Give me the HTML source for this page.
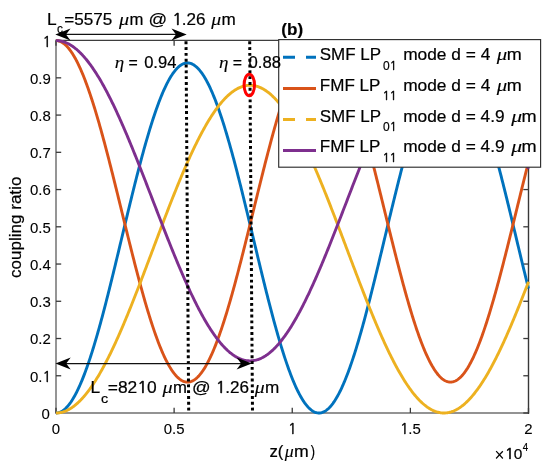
<!DOCTYPE html>
<html><head><meta charset="utf-8"><style>
html,body{margin:0;padding:0;background:#fff;}
svg{display:block;}
text{font-family:'Liberation Sans', Arial, sans-serif;fill:#000;stroke:#000;stroke-width:0.2px;}
text.tk{stroke-width:0.1px;}
tspan.n1{font-family:NanumGothic,'Liberation Sans',sans-serif;stroke-width:0.55px;}
text.tk tspan.n1{stroke-width:0.4px;}
</style></head><body>
<svg width="550" height="469" viewBox="0 0 550 469">
<rect width="550" height="469" fill="#fff"/>
<defs><clipPath id="ax"><rect x="56.0" y="40.6" width="472.50" height="372.40"/></clipPath></defs>

<g fill="none">
<line x1="56.0" y1="40.4" x2="528.5" y2="40.4" stroke="#3e3e3e" stroke-width="1.3"/>
<line x1="56.0" y1="413.0" x2="528.5" y2="413.0" stroke="#6f6f6f" stroke-width="1.6"/>
<line x1="56.0" y1="39.4" x2="56.0" y2="413.9" stroke="#959595" stroke-width="2"/>
<line x1="528.5" y1="39.4" x2="528.5" y2="413.9" stroke="#383838" stroke-width="1.4"/>
</g>
<g stroke="#3a3a3a" stroke-width="1.3" fill="none">
<line x1="56.0" y1="413.00" x2="61.20" y2="413.00"/><line x1="528.5" y1="413.00" x2="523.30" y2="413.00"/><line x1="56.0" y1="375.76" x2="61.20" y2="375.76"/><line x1="528.5" y1="375.76" x2="523.30" y2="375.76"/><line x1="56.0" y1="338.52" x2="61.20" y2="338.52"/><line x1="528.5" y1="338.52" x2="523.30" y2="338.52"/><line x1="56.0" y1="301.28" x2="61.20" y2="301.28"/><line x1="528.5" y1="301.28" x2="523.30" y2="301.28"/><line x1="56.0" y1="264.04" x2="61.20" y2="264.04"/><line x1="528.5" y1="264.04" x2="523.30" y2="264.04"/><line x1="56.0" y1="226.80" x2="61.20" y2="226.80"/><line x1="528.5" y1="226.80" x2="523.30" y2="226.80"/><line x1="56.0" y1="189.56" x2="61.20" y2="189.56"/><line x1="528.5" y1="189.56" x2="523.30" y2="189.56"/><line x1="56.0" y1="152.32" x2="61.20" y2="152.32"/><line x1="528.5" y1="152.32" x2="523.30" y2="152.32"/><line x1="56.0" y1="115.08" x2="61.20" y2="115.08"/><line x1="528.5" y1="115.08" x2="523.30" y2="115.08"/><line x1="56.0" y1="77.84" x2="61.20" y2="77.84"/><line x1="528.5" y1="77.84" x2="523.30" y2="77.84"/><line x1="56.0" y1="40.60" x2="61.20" y2="40.60"/><line x1="528.5" y1="40.60" x2="523.30" y2="40.60"/><line x1="56.00" y1="413.0" x2="56.00" y2="407.80"/><line x1="56.00" y1="40.6" x2="56.00" y2="45.80"/><line x1="174.12" y1="413.0" x2="174.12" y2="407.80"/><line x1="174.12" y1="40.6" x2="174.12" y2="45.80"/><line x1="292.25" y1="413.0" x2="292.25" y2="407.80"/><line x1="292.25" y1="40.6" x2="292.25" y2="45.80"/><line x1="410.38" y1="413.0" x2="410.38" y2="407.80"/><line x1="410.38" y1="40.6" x2="410.38" y2="45.80"/><line x1="528.50" y1="413.0" x2="528.50" y2="407.80"/><line x1="528.50" y1="40.6" x2="528.50" y2="45.80"/>
</g>
<g fill="none" stroke-width="2.9" stroke-linejoin="round">
<path d="M56.00,413.00 L56.59,412.98 L57.18,412.93 L57.77,412.84 L58.36,412.72 L58.95,412.56 L59.54,412.37 L60.13,412.15 L60.73,411.89 L61.32,411.59 L61.91,411.26 L62.50,410.90 L63.09,410.50 L63.68,410.06 L64.27,409.60 L64.86,409.09 L65.45,408.56 L66.04,407.99 L66.63,407.38 L67.22,406.75 L67.81,406.08 L68.40,405.37 L68.99,404.63 L69.58,403.86 L70.17,403.06 L70.77,402.22 L71.36,401.35 L71.95,400.45 L72.54,399.52 L73.13,398.55 L73.72,397.55 L74.31,396.52 L74.90,395.46 L75.49,394.36 L76.08,393.24 L76.67,392.08 L77.26,390.90 L77.85,389.68 L78.44,388.44 L79.03,387.16 L79.62,385.85 L80.22,384.52 L80.81,383.15 L81.40,381.76 L81.99,380.34 L82.58,378.88 L83.17,377.41 L83.76,375.90 L84.35,374.36 L84.94,372.80 L85.53,371.21 L86.12,369.60 L86.71,367.96 L87.30,366.29 L87.89,364.60 L88.48,362.88 L89.08,361.14 L89.67,359.37 L90.26,357.58 L90.85,355.77 L91.44,353.93 L92.03,352.07 L92.62,350.18 L93.21,348.28 L93.80,346.35 L94.39,344.40 L94.98,342.43 L95.57,340.43 L96.16,338.42 L96.75,336.39 L97.34,334.34 L97.93,332.27 L98.53,330.18 L99.12,328.07 L99.71,325.94 L100.30,323.80 L100.89,321.64 L101.48,319.46 L102.07,317.27 L102.66,315.06 L103.25,312.83 L103.84,310.59 L104.43,308.34 L105.02,306.07 L105.61,303.79 L106.20,301.49 L106.79,299.18 L107.38,296.86 L107.97,294.53 L108.57,292.19 L109.16,289.84 L109.75,287.47 L110.34,285.10 L110.93,282.72 L111.52,280.32 L112.11,277.92 L112.70,275.51 L113.29,273.10 L113.88,270.68 L114.47,268.25 L115.06,265.81 L115.65,263.37 L116.24,260.92 L116.83,258.47 L117.43,256.02 L118.02,253.56 L118.61,251.10 L119.20,248.63 L119.79,246.17 L120.38,243.70 L120.97,241.23 L121.56,238.76 L122.15,236.29 L122.74,233.82 L123.33,231.35 L123.92,228.89 L124.51,226.42 L125.10,223.96 L125.69,221.50 L126.28,219.04 L126.88,216.59 L127.47,214.14 L128.06,211.69 L128.65,209.26 L129.24,206.82 L129.83,204.40 L130.42,201.97 L131.01,199.56 L131.60,197.16 L132.19,194.76 L132.78,192.37 L133.37,189.99 L133.96,187.62 L134.55,185.26 L135.14,182.91 L135.73,180.57 L136.32,178.24 L136.92,175.93 L137.51,173.62 L138.10,171.33 L138.69,169.06 L139.28,166.79 L139.87,164.54 L140.46,162.31 L141.05,160.09 L141.64,157.89 L142.23,155.70 L142.82,153.53 L143.41,151.37 L144.00,149.23 L144.59,147.11 L145.18,145.01 L145.78,142.93 L146.37,140.87 L146.96,138.82 L147.55,136.79 L148.14,134.79 L148.73,132.81 L149.32,130.84 L149.91,128.90 L150.50,126.98 L151.09,125.08 L151.68,123.20 L152.27,121.35 L152.86,119.52 L153.45,117.71 L154.04,115.93 L154.63,114.17 L155.22,112.44 L155.82,110.73 L156.41,109.05 L157.00,107.39 L157.59,105.76 L158.18,104.15 L158.77,102.58 L159.36,101.02 L159.95,99.50 L160.54,98.00 L161.13,96.53 L161.72,95.09 L162.31,93.68 L162.90,92.30 L163.49,90.94 L164.08,89.62 L164.68,88.32 L165.27,87.06 L165.86,85.82 L166.45,84.61 L167.04,83.44 L167.63,82.30 L168.22,81.18 L168.81,80.10 L169.40,79.05 L169.99,78.03 L170.58,77.04 L171.17,76.09 L171.76,75.17 L172.35,74.27 L172.94,73.42 L173.53,72.59 L174.12,71.80 L174.72,71.04 L175.31,70.31 L175.90,69.62 L176.49,68.96 L177.08,68.34 L177.67,67.75 L178.26,67.19 L178.85,66.67 L179.44,66.18 L180.03,65.72 L180.62,65.30 L181.21,64.91 L181.80,64.56 L182.39,64.24 L182.98,63.96 L183.57,63.71 L184.17,63.50 L184.76,63.32 L185.35,63.17 L185.94,63.07 L186.53,62.99 L187.12,62.95 L187.71,62.95 L188.30,62.98 L188.89,63.04 L189.48,63.14 L190.07,63.28 L190.66,63.44 L191.25,63.65 L191.84,63.89 L192.43,64.16 L193.02,64.47 L193.62,64.81 L194.21,65.19 L194.80,65.60 L195.39,66.04 L195.98,66.52 L196.57,67.04 L197.16,67.59 L197.75,68.17 L198.34,68.78 L198.93,69.43 L199.52,70.12 L200.11,70.83 L200.70,71.58 L201.29,72.37 L201.88,73.18 L202.47,74.03 L203.07,74.91 L203.66,75.83 L204.25,76.77 L204.84,77.75 L205.43,78.76 L206.02,79.80 L206.61,80.88 L207.20,81.98 L207.79,83.12 L208.38,84.28 L208.97,85.48 L209.56,86.71 L210.15,87.96 L210.74,89.25 L211.33,90.57 L211.93,91.92 L212.52,93.29 L213.11,94.70 L213.70,96.13 L214.29,97.59 L214.88,99.08 L215.47,100.59 L216.06,102.14 L216.65,103.71 L217.24,105.31 L217.83,106.93 L218.42,108.58 L219.01,110.26 L219.60,111.96 L220.19,113.69 L220.78,115.44 L221.38,117.21 L221.97,119.01 L222.56,120.84 L223.15,122.68 L223.74,124.55 L224.33,126.44 L224.92,128.36 L225.51,130.30 L226.10,132.25 L226.69,134.23 L227.28,136.23 L227.87,138.25 L228.46,140.29 L229.05,142.35 L229.64,144.43 L230.23,146.52 L230.82,148.64 L231.42,150.77 L232.01,152.92 L232.60,155.09 L233.19,157.27 L233.78,159.47 L234.37,161.69 L234.96,163.92 L235.55,166.16 L236.14,168.42 L236.73,170.70 L237.32,172.98 L237.91,175.28 L238.50,177.59 L239.09,179.92 L239.68,182.25 L240.28,184.60 L240.87,186.96 L241.46,189.32 L242.05,191.70 L242.64,194.09 L243.23,196.48 L243.82,198.89 L244.41,201.30 L245.00,203.72 L245.59,206.14 L246.18,208.57 L246.77,211.01 L247.36,213.45 L247.95,215.90 L248.54,218.35 L249.13,220.81 L249.72,223.27 L250.32,225.73 L250.91,228.20 L251.50,230.66 L252.09,233.13 L252.68,235.60 L253.27,238.07 L253.86,240.54 L254.45,243.01 L255.04,245.48 L255.63,247.94 L256.22,250.41 L256.81,252.87 L257.40,255.33 L257.99,257.79 L258.58,260.24 L259.17,262.69 L259.77,265.13 L260.36,267.57 L260.95,270.00 L261.54,272.42 L262.13,274.84 L262.72,277.25 L263.31,279.65 L263.90,282.05 L264.49,284.43 L265.08,286.81 L265.67,289.18 L266.26,291.53 L266.85,293.88 L267.44,296.21 L268.03,298.54 L268.62,300.85 L269.22,303.15 L269.81,305.43 L270.40,307.70 L270.99,309.96 L271.58,312.21 L272.17,314.43 L272.76,316.65 L273.35,318.85 L273.94,321.03 L274.53,323.19 L275.12,325.34 L275.71,327.47 L276.30,329.59 L276.89,331.68 L277.48,333.76 L278.07,335.82 L278.67,337.86 L279.26,339.87 L279.85,341.87 L280.44,343.85 L281.03,345.80 L281.62,347.74 L282.21,349.65 L282.80,351.54 L283.39,353.41 L283.98,355.25 L284.57,357.08 L285.16,358.87 L285.75,360.65 L286.34,362.40 L286.93,364.12 L287.52,365.82 L288.12,367.50 L288.71,369.14 L289.30,370.77 L289.89,372.36 L290.48,373.93 L291.07,375.47 L291.66,376.99 L292.25,378.47 L292.84,379.93 L293.43,381.36 L294.02,382.76 L294.61,384.14 L295.20,385.48 L295.79,386.80 L296.38,388.08 L296.98,389.34 L297.57,390.56 L298.16,391.76 L298.75,392.92 L299.34,394.05 L299.93,395.16 L300.52,396.23 L301.11,397.27 L301.70,398.27 L302.29,399.25 L302.88,400.19 L303.47,401.10 L304.06,401.98 L304.65,402.83 L305.24,403.64 L305.83,404.42 L306.43,405.17 L307.02,405.88 L307.61,406.56 L308.20,407.21 L308.79,407.82 L309.38,408.40 L309.97,408.95 L310.56,409.46 L311.15,409.94 L311.74,410.38 L312.33,410.79 L312.92,411.16 L313.51,411.50 L314.10,411.81 L314.69,412.08 L315.28,412.31 L315.88,412.51 L316.47,412.68 L317.06,412.81 L317.65,412.91 L318.24,412.97 L318.83,413.00 L319.42,412.99 L320.01,412.95 L320.60,412.87 L321.19,412.76 L321.78,412.61 L322.37,412.43 L322.96,412.21 L323.55,411.96 L324.14,411.68 L324.73,411.36 L325.32,411.00 L325.92,410.61 L326.51,410.19 L327.10,409.73 L327.69,409.24 L328.28,408.71 L328.87,408.15 L329.46,407.56 L330.05,406.93 L330.64,406.27 L331.23,405.57 L331.82,404.84 L332.41,404.08 L333.00,403.29 L333.59,402.46 L334.18,401.60 L334.77,400.71 L335.37,399.78 L335.96,398.82 L336.55,397.83 L337.14,396.81 L337.73,395.76 L338.32,394.67 L338.91,393.56 L339.50,392.41 L340.09,391.23 L340.68,390.03 L341.27,388.79 L341.86,387.52 L342.45,386.22 L343.04,384.89 L343.63,383.54 L344.22,382.15 L344.82,380.74 L345.41,379.29 L346.00,377.82 L346.59,376.32 L347.18,374.80 L347.77,373.24 L348.36,371.66 L348.95,370.06 L349.54,368.42 L350.13,366.76 L350.72,365.08 L351.31,363.37 L351.90,361.63 L352.49,359.87 L353.08,358.09 L353.68,356.28 L354.27,354.45 L354.86,352.59 L355.45,350.71 L356.04,348.81 L356.63,346.89 L357.22,344.95 L357.81,342.98 L358.40,340.99 L358.99,338.99 L359.58,336.96 L360.17,334.91 L360.76,332.85 L361.35,330.76 L361.94,328.66 L362.53,326.54 L363.12,324.40 L363.72,322.24 L364.31,320.07 L364.90,317.88 L365.49,315.68 L366.08,313.46 L366.67,311.22 L367.26,308.97 L367.85,306.71 L368.44,304.43 L369.03,302.14 L369.62,299.83 L370.21,297.52 L370.80,295.19 L371.39,292.85 L371.98,290.50 L372.58,288.14 L373.17,285.76 L373.76,283.38 L374.35,280.99 L374.94,278.60 L375.53,276.19 L376.12,273.78 L376.71,271.35 L377.30,268.93 L377.89,266.49 L378.48,264.05 L379.07,261.61 L379.66,259.16 L380.25,256.71 L380.84,254.25 L381.43,251.79 L382.02,249.32 L382.62,246.86 L383.21,244.39 L383.80,241.92 L384.39,239.45 L384.98,236.98 L385.57,234.51 L386.16,232.05 L386.75,229.58 L387.34,227.11 L387.93,224.65 L388.52,222.19 L389.11,219.73 L389.70,217.27 L390.29,214.82 L390.88,212.38 L391.47,209.94 L392.07,207.50 L392.66,205.07 L393.25,202.65 L393.84,200.24 L394.43,197.83 L395.02,195.43 L395.61,193.04 L396.20,190.65 L396.79,188.28 L397.38,185.92 L397.97,183.57 L398.56,181.22 L399.15,178.89 L399.74,176.57 L400.33,174.27 L400.93,171.97 L401.52,169.69 L402.11,167.43 L402.70,165.17 L403.29,162.93 L403.88,160.71 L404.47,158.50 L405.06,156.31 L405.65,154.13 L406.24,151.97 L406.83,149.83 L407.42,147.71 L408.01,145.60 L408.60,143.51 L409.19,141.44 L409.78,139.39 L410.38,137.36 L410.97,135.35 L411.56,133.36 L412.15,131.39 L412.74,129.44 L413.33,127.51 L413.92,125.61 L414.51,123.73 L415.10,121.87 L415.69,120.03 L416.28,118.22 L416.87,116.43 L417.46,114.66 L418.05,112.92 L418.64,111.21 L419.23,109.52 L419.82,107.85 L420.42,106.21 L421.01,104.60 L421.60,103.01 L422.19,101.46 L422.78,99.92 L423.37,98.42 L423.96,96.94 L424.55,95.49 L425.14,94.07 L425.73,92.68 L426.32,91.32 L426.91,89.99 L427.50,88.68 L428.09,87.41 L428.68,86.16 L429.28,84.95 L429.87,83.77 L430.46,82.61 L431.05,81.49 L431.64,80.40 L432.23,79.34 L432.82,78.31 L433.41,77.32 L434.00,76.35 L434.59,75.42 L435.18,74.52 L435.77,73.65 L436.36,72.82 L436.95,72.02 L437.54,71.25 L438.13,70.51 L438.73,69.81 L439.32,69.14 L439.91,68.51 L440.50,67.91 L441.09,67.34 L441.68,66.81 L442.27,66.31 L442.86,65.84 L443.45,65.41 L444.04,65.02 L444.63,64.66 L445.22,64.33 L445.81,64.04 L446.40,63.78 L446.99,63.55 L447.58,63.37 L448.17,63.21 L448.77,63.09 L449.36,63.01 L449.95,62.96 L450.54,62.94 L451.13,62.96 L451.72,63.02 L452.31,63.11 L452.90,63.23 L453.49,63.39 L454.08,63.59 L454.67,63.82 L455.26,64.08 L455.85,64.38 L456.44,64.71 L457.03,65.08 L457.62,65.48 L458.22,65.92 L458.81,66.39 L459.40,66.89 L459.99,67.43 L460.58,68.00 L461.17,68.61 L461.76,69.25 L462.35,69.92 L462.94,70.63 L463.53,71.37 L464.12,72.14 L464.71,72.95 L465.30,73.79 L465.89,74.66 L466.48,75.57 L467.07,76.50 L467.67,77.47 L468.26,78.47 L468.85,79.51 L469.44,80.57 L470.03,81.67 L470.62,82.80 L471.21,83.95 L471.80,85.14 L472.39,86.36 L472.98,87.61 L473.57,88.89 L474.16,90.20 L474.75,91.54 L475.34,92.90 L475.93,94.30 L476.53,95.72 L477.12,97.18 L477.71,98.66 L478.30,100.17 L478.89,101.70 L479.48,103.27 L480.07,104.86 L480.66,106.47 L481.25,108.12 L481.84,109.79 L482.43,111.48 L483.02,113.20 L483.61,114.94 L484.20,116.71 L484.79,118.51 L485.38,120.32 L485.98,122.16 L486.57,124.03 L487.16,125.91 L487.75,127.82 L488.34,129.75 L488.93,131.70 L489.52,133.68 L490.11,135.67 L490.70,137.68 L491.29,139.72 L491.88,141.77 L492.47,143.84 L493.06,145.94 L493.65,148.05 L494.24,150.17 L494.83,152.32 L495.43,154.48 L496.02,156.66 L496.61,158.85 L497.20,161.07 L497.79,163.29 L498.38,165.53 L498.97,167.79 L499.56,170.06 L500.15,172.34 L500.74,174.64 L501.33,176.94 L501.92,179.27 L502.51,181.60 L503.10,183.94 L503.69,186.30 L504.28,188.66 L504.88,191.04 L505.47,193.42 L506.06,195.81 L506.65,198.21 L507.24,200.62 L507.83,203.04 L508.42,205.46 L509.01,207.89 L509.60,210.33 L510.19,212.77 L510.78,215.22 L511.37,217.67 L511.96,220.12 L512.55,222.58 L513.14,225.04 L513.73,227.51 L514.33,229.97 L514.92,232.44 L515.51,234.91 L516.10,237.38 L516.69,239.85 L517.28,242.32 L517.87,244.79 L518.46,247.25 L519.05,249.72 L519.64,252.18 L520.23,254.64 L520.82,257.10 L521.41,259.55 L522.00,262.00 L522.59,264.44 L523.18,266.88 L523.77,269.32 L524.37,271.74 L524.96,274.16 L525.55,276.58 L526.14,278.98 L526.73,281.38 L527.32,283.77 L527.91,286.14 L528.50,288.51" stroke="#0072BD"/>
<path d="M56.00,40.60 L56.59,40.62 L57.18,40.67 L57.77,40.75 L58.36,40.87 L58.95,41.02 L59.54,41.21 L60.13,41.43 L60.73,41.69 L61.32,41.98 L61.91,42.30 L62.50,42.65 L63.09,43.04 L63.68,43.46 L64.27,43.92 L64.86,44.41 L65.45,44.93 L66.04,45.49 L66.63,46.08 L67.22,46.70 L67.81,47.35 L68.40,48.04 L68.99,48.76 L69.58,49.51 L70.17,50.30 L70.77,51.11 L71.36,51.96 L71.95,52.84 L72.54,53.75 L73.13,54.70 L73.72,55.67 L74.31,56.68 L74.90,57.71 L75.49,58.78 L76.08,59.88 L76.67,61.00 L77.26,62.16 L77.85,63.35 L78.44,64.56 L79.03,65.81 L79.62,67.08 L80.22,68.39 L80.81,69.72 L81.40,71.08 L81.99,72.47 L82.58,73.88 L83.17,75.32 L83.76,76.79 L84.35,78.29 L84.94,79.81 L85.53,81.36 L86.12,82.94 L86.71,84.54 L87.30,86.16 L87.89,87.82 L88.48,89.49 L89.08,91.19 L89.67,92.91 L90.26,94.66 L90.85,96.43 L91.44,98.23 L92.03,100.04 L92.62,101.88 L93.21,103.74 L93.80,105.62 L94.39,107.52 L94.98,109.45 L95.57,111.39 L96.16,113.35 L96.75,115.34 L97.34,117.34 L97.93,119.36 L98.53,121.40 L99.12,123.45 L99.71,125.53 L100.30,127.62 L100.89,129.73 L101.48,131.85 L102.07,133.99 L102.66,136.15 L103.25,138.32 L103.84,140.50 L104.43,142.70 L105.02,144.91 L105.61,147.14 L106.20,149.38 L106.79,151.63 L107.38,153.89 L107.97,156.17 L108.57,158.45 L109.16,160.75 L109.75,163.06 L110.34,165.37 L110.93,167.70 L111.52,170.03 L112.11,172.37 L112.70,174.72 L113.29,177.08 L113.88,179.44 L114.47,181.81 L115.06,184.19 L115.65,186.57 L116.24,188.96 L116.83,191.35 L117.43,193.74 L118.02,196.14 L118.61,198.54 L119.20,200.94 L119.79,203.35 L120.38,205.76 L120.97,208.17 L121.56,210.57 L122.15,212.98 L122.74,215.39 L123.33,217.80 L123.92,220.21 L124.51,222.61 L125.10,225.02 L125.69,227.42 L126.28,229.81 L126.88,232.21 L127.47,234.60 L128.06,236.98 L128.65,239.36 L129.24,241.73 L129.83,244.10 L130.42,246.46 L131.01,248.82 L131.60,251.16 L132.19,253.50 L132.78,255.83 L133.37,258.15 L133.96,260.47 L134.55,262.77 L135.14,265.06 L135.73,267.34 L136.32,269.61 L136.92,271.87 L137.51,274.12 L138.10,276.35 L138.69,278.57 L139.28,280.78 L139.87,282.98 L140.46,285.16 L141.05,287.32 L141.64,289.47 L142.23,291.61 L142.82,293.72 L143.41,295.83 L144.00,297.91 L144.59,299.98 L145.18,302.03 L145.78,304.06 L146.37,306.08 L146.96,308.07 L147.55,310.05 L148.14,312.00 L148.73,313.94 L149.32,315.85 L149.91,317.75 L150.50,319.62 L151.09,321.48 L151.68,323.31 L152.27,325.11 L152.86,326.90 L153.45,328.66 L154.04,330.40 L154.63,332.11 L155.22,333.81 L155.82,335.47 L156.41,337.11 L157.00,338.73 L157.59,340.32 L158.18,341.89 L158.77,343.43 L159.36,344.94 L159.95,346.43 L160.54,347.89 L161.13,349.32 L161.72,350.73 L162.31,352.11 L162.90,353.46 L163.49,354.78 L164.08,356.07 L164.68,357.33 L165.27,358.57 L165.86,359.77 L166.45,360.95 L167.04,362.10 L167.63,363.21 L168.22,364.30 L168.81,365.35 L169.40,366.38 L169.99,367.37 L170.58,368.34 L171.17,369.27 L171.76,370.17 L172.35,371.04 L172.94,371.87 L173.53,372.68 L174.12,373.45 L174.72,374.19 L175.31,374.90 L175.90,375.58 L176.49,376.22 L177.08,376.83 L177.67,377.41 L178.26,377.95 L178.85,378.46 L179.44,378.94 L180.03,379.38 L180.62,379.79 L181.21,380.17 L181.80,380.51 L182.39,380.82 L182.98,381.10 L183.57,381.34 L184.17,381.55 L184.76,381.72 L185.35,381.87 L185.94,381.97 L186.53,382.05 L187.12,382.08 L187.71,382.09 L188.30,382.06 L188.89,382.00 L189.48,381.90 L190.07,381.77 L190.66,381.60 L191.25,381.40 L191.84,381.17 L192.43,380.90 L193.02,380.60 L193.62,380.27 L194.21,379.90 L194.80,379.50 L195.39,379.07 L195.98,378.60 L196.57,378.10 L197.16,377.56 L197.75,376.99 L198.34,376.39 L198.93,375.76 L199.52,375.09 L200.11,374.39 L200.70,373.66 L201.29,372.90 L201.88,372.10 L202.47,371.27 L203.07,370.41 L203.66,369.52 L204.25,368.60 L204.84,367.65 L205.43,366.66 L206.02,365.64 L206.61,364.60 L207.20,363.52 L207.79,362.41 L208.38,361.27 L208.97,360.11 L209.56,358.91 L210.15,357.68 L210.74,356.43 L211.33,355.14 L211.93,353.83 L212.52,352.49 L213.11,351.12 L213.70,349.72 L214.29,348.29 L214.88,346.84 L215.47,345.36 L216.06,343.86 L216.65,342.32 L217.24,340.76 L217.83,339.18 L218.42,337.57 L219.01,335.93 L219.60,334.27 L220.19,332.59 L220.78,330.88 L221.38,329.15 L221.97,327.39 L222.56,325.62 L223.15,323.81 L223.74,321.99 L224.33,320.14 L224.92,318.28 L225.51,316.39 L226.10,314.48 L226.69,312.55 L227.28,310.60 L227.87,308.63 L228.46,306.64 L229.05,304.63 L229.64,302.60 L230.23,300.56 L230.82,298.49 L231.42,296.41 L232.01,294.31 L232.60,292.20 L233.19,290.07 L233.78,287.92 L234.37,285.76 L234.96,283.59 L235.55,281.40 L236.14,279.19 L236.73,276.98 L237.32,274.75 L237.91,272.50 L238.50,270.25 L239.09,267.98 L239.68,265.70 L240.28,263.41 L240.87,261.11 L241.46,258.80 L242.05,256.48 L242.64,254.16 L243.23,251.82 L243.82,249.47 L244.41,247.12 L245.00,244.76 L245.59,242.40 L246.18,240.02 L246.77,237.65 L247.36,235.26 L247.95,232.88 L248.54,230.48 L249.13,228.09 L249.72,225.69 L250.32,223.29 L250.91,220.88 L251.50,218.47 L252.09,216.07 L252.68,213.66 L253.27,211.25 L253.86,208.84 L254.45,206.43 L255.04,204.02 L255.63,201.62 L256.22,199.21 L256.81,196.81 L257.40,194.41 L257.99,192.02 L258.58,189.62 L259.17,187.24 L259.77,184.85 L260.36,182.48 L260.95,180.10 L261.54,177.74 L262.13,175.38 L262.72,173.03 L263.31,170.68 L263.90,168.35 L264.49,166.02 L265.08,163.70 L265.67,161.39 L266.26,159.10 L266.85,156.81 L267.44,154.53 L268.03,152.26 L268.62,150.01 L269.22,147.77 L269.81,145.54 L270.40,143.32 L270.99,141.12 L271.58,138.93 L272.17,136.75 L272.76,134.59 L273.35,132.45 L273.94,130.32 L274.53,128.21 L275.12,126.11 L275.71,124.03 L276.30,121.97 L276.89,119.93 L277.48,117.90 L278.07,115.89 L278.67,113.91 L279.26,111.94 L279.85,109.99 L280.44,108.06 L281.03,106.15 L281.62,104.26 L282.21,102.40 L282.80,100.55 L283.39,98.73 L283.98,96.93 L284.57,95.16 L285.16,93.40 L285.75,91.67 L286.34,89.96 L286.93,88.28 L287.52,86.62 L288.12,84.99 L288.71,83.38 L289.30,81.80 L289.89,80.24 L290.48,78.71 L291.07,77.21 L291.66,75.73 L292.25,74.28 L292.84,72.86 L293.43,71.46 L294.02,70.10 L294.61,68.76 L295.20,67.45 L295.79,66.16 L296.38,64.91 L296.98,63.68 L297.57,62.49 L298.16,61.32 L298.75,60.19 L299.34,59.08 L299.93,58.01 L300.52,56.96 L301.11,55.95 L301.70,54.97 L302.29,54.02 L302.88,53.09 L303.47,52.21 L304.06,51.35 L304.65,50.52 L305.24,49.73 L305.83,48.97 L306.43,48.24 L307.02,47.54 L307.61,46.88 L308.20,46.25 L308.79,45.65 L309.38,45.09 L309.97,44.55 L310.56,44.05 L311.15,43.59 L311.74,43.16 L312.33,42.76 L312.92,42.39 L313.51,42.06 L314.10,41.76 L314.69,41.50 L315.28,41.27 L315.88,41.07 L316.47,40.91 L317.06,40.78 L317.65,40.69 L318.24,40.63 L318.83,40.60 L319.42,40.61 L320.01,40.65 L320.60,40.73 L321.19,40.84 L321.78,40.98 L322.37,41.16 L322.96,41.37 L323.55,41.61 L324.14,41.89 L324.73,42.20 L325.32,42.55 L325.92,42.93 L326.51,43.34 L327.10,43.79 L327.69,44.27 L328.28,44.78 L328.87,45.33 L329.46,45.91 L330.05,46.52 L330.64,47.17 L331.23,47.85 L331.82,48.56 L332.41,49.30 L333.00,50.08 L333.59,50.88 L334.18,51.72 L334.77,52.59 L335.37,53.50 L335.96,54.43 L336.55,55.40 L337.14,56.39 L337.73,57.42 L338.32,58.48 L338.91,59.57 L339.50,60.68 L340.09,61.83 L340.68,63.01 L341.27,64.22 L341.86,65.46 L342.45,66.72 L343.04,68.02 L343.63,69.34 L344.22,70.69 L344.82,72.07 L345.41,73.48 L346.00,74.92 L346.59,76.38 L347.18,77.87 L347.77,79.38 L348.36,80.93 L348.95,82.49 L349.54,84.09 L350.13,85.71 L350.72,87.35 L351.31,89.02 L351.90,90.71 L352.49,92.43 L353.08,94.17 L353.68,95.93 L354.27,97.72 L354.86,99.53 L355.45,101.36 L356.04,103.22 L356.63,105.09 L357.22,106.99 L357.81,108.91 L358.40,110.84 L358.99,112.80 L359.58,114.78 L360.17,116.78 L360.76,118.79 L361.35,120.82 L361.94,122.88 L362.53,124.95 L363.12,127.03 L363.72,129.14 L364.31,131.26 L364.90,133.39 L365.49,135.54 L366.08,137.71 L366.67,139.89 L367.26,142.08 L367.85,144.29 L368.44,146.52 L369.03,148.75 L369.62,151.00 L370.21,153.26 L370.80,155.53 L371.39,157.81 L371.98,160.11 L372.58,162.41 L373.17,164.72 L373.76,167.04 L374.35,169.38 L374.94,171.72 L375.53,174.06 L376.12,176.42 L376.71,178.78 L377.30,181.15 L377.89,183.52 L378.48,185.90 L379.07,188.29 L379.66,190.68 L380.25,193.07 L380.84,195.47 L381.43,197.87 L382.02,200.27 L382.62,202.68 L383.21,205.08 L383.80,207.49 L384.39,209.90 L384.98,212.31 L385.57,214.72 L386.16,217.13 L386.75,219.53 L387.34,221.94 L387.93,224.34 L388.52,226.74 L389.11,229.14 L389.70,231.54 L390.29,233.93 L390.88,236.31 L391.47,238.69 L392.07,241.07 L392.66,243.44 L393.25,245.80 L393.84,248.16 L394.43,250.51 L395.02,252.85 L395.61,255.18 L396.20,257.50 L396.79,259.82 L397.38,262.12 L397.97,264.42 L398.56,266.70 L399.15,268.98 L399.74,271.24 L400.33,273.49 L400.93,275.73 L401.52,277.95 L402.11,280.17 L402.70,282.36 L403.29,284.55 L403.88,286.72 L404.47,288.87 L405.06,291.01 L405.65,293.13 L406.24,295.24 L406.83,297.33 L407.42,299.40 L408.01,301.46 L408.60,303.50 L409.19,305.51 L409.78,307.51 L410.38,309.50 L410.97,311.46 L411.56,313.40 L412.15,315.32 L412.74,317.22 L413.33,319.10 L413.92,320.96 L414.51,322.80 L415.10,324.61 L415.69,326.40 L416.28,328.17 L416.87,329.92 L417.46,331.64 L418.05,333.33 L418.64,335.01 L419.23,336.66 L419.82,338.28 L420.42,339.88 L421.01,341.45 L421.60,343.00 L422.19,344.52 L422.78,346.02 L423.37,347.48 L423.96,348.92 L424.55,350.34 L425.14,351.72 L425.73,353.08 L426.32,354.41 L426.91,355.71 L427.50,356.98 L428.09,358.23 L428.68,359.44 L429.28,360.62 L429.87,361.78 L430.46,362.90 L431.05,364.00 L431.64,365.06 L432.23,366.10 L432.82,367.10 L433.41,368.07 L434.00,369.01 L434.59,369.92 L435.18,370.80 L435.77,371.64 L436.36,372.46 L436.95,373.24 L437.54,373.99 L438.13,374.71 L438.73,375.39 L439.32,376.04 L439.91,376.66 L440.50,377.25 L441.09,377.80 L441.68,378.32 L442.27,378.81 L442.86,379.26 L443.45,379.68 L444.04,380.07 L444.63,380.42 L445.22,380.74 L445.81,381.03 L446.40,381.28 L446.99,381.50 L447.58,381.68 L448.17,381.83 L448.77,381.95 L449.36,382.03 L449.95,382.08 L450.54,382.09 L451.13,382.07 L451.72,382.02 L452.31,381.93 L452.90,381.81 L453.49,381.65 L454.08,381.46 L454.67,381.24 L455.26,380.98 L455.85,380.69 L456.44,380.37 L457.03,380.01 L457.62,379.62 L458.22,379.19 L458.81,378.73 L459.40,378.24 L459.99,377.71 L460.58,377.16 L461.17,376.56 L461.76,375.94 L462.35,375.28 L462.94,374.59 L463.53,373.87 L464.12,373.12 L464.71,372.33 L465.30,371.51 L465.89,370.66 L466.48,369.78 L467.07,368.86 L467.67,367.92 L468.26,366.94 L468.85,365.93 L469.44,364.89 L470.03,363.82 L470.62,362.73 L471.21,361.60 L471.80,360.44 L472.39,359.25 L472.98,358.03 L473.57,356.78 L474.16,355.50 L474.75,354.20 L475.34,352.87 L475.93,351.50 L476.53,350.11 L477.12,348.70 L477.71,347.25 L478.30,345.78 L478.89,344.28 L479.48,342.75 L480.07,341.20 L480.66,339.63 L481.25,338.02 L481.84,336.40 L482.43,334.74 L483.02,333.06 L483.61,331.36 L484.20,329.64 L484.79,327.89 L485.38,326.12 L485.98,324.32 L486.57,322.50 L487.16,320.66 L487.75,318.80 L488.34,316.92 L488.93,315.01 L489.52,313.09 L490.11,311.14 L490.70,309.18 L491.29,307.20 L491.88,305.19 L492.47,303.17 L493.06,301.13 L493.65,299.07 L494.24,297.00 L494.83,294.90 L495.43,292.79 L496.02,290.67 L496.61,288.53 L497.20,286.37 L497.79,284.20 L498.38,282.01 L498.97,279.81 L499.56,277.60 L500.15,275.37 L500.74,273.13 L501.33,270.88 L501.92,268.62 L502.51,266.34 L503.10,264.05 L503.69,261.76 L504.28,259.45 L504.88,257.13 L505.47,254.81 L506.06,252.47 L506.65,250.13 L507.24,247.78 L507.83,245.42 L508.42,243.06 L509.01,240.69 L509.60,238.31 L510.19,235.93 L510.78,233.54 L511.37,231.15 L511.96,228.76 L512.55,226.36 L513.14,223.96 L513.73,221.55 L514.33,219.15 L514.92,216.74 L515.51,214.33 L516.10,211.92 L516.69,209.51 L517.28,207.11 L517.87,204.70 L518.46,202.29 L519.05,199.89 L519.64,197.48 L520.23,195.08 L520.82,192.69 L521.41,190.29 L522.00,187.90 L522.59,185.52 L523.18,183.14 L523.77,180.77 L524.37,178.40 L524.96,176.04 L525.55,173.69 L526.14,171.34 L526.73,169.00 L527.32,166.67 L527.91,164.35 L528.50,162.04" stroke="#D95319"/>
<path d="M56.00,413.00 L56.59,412.99 L57.18,412.97 L57.77,412.93 L58.36,412.88 L58.95,412.81 L59.54,412.73 L60.13,412.63 L60.73,412.52 L61.32,412.39 L61.91,412.25 L62.50,412.09 L63.09,411.92 L63.68,411.73 L64.27,411.53 L64.86,411.32 L65.45,411.08 L66.04,410.84 L66.63,410.58 L67.22,410.30 L67.81,410.01 L68.40,409.70 L68.99,409.38 L69.58,409.05 L70.17,408.70 L70.77,408.34 L71.36,407.96 L71.95,407.56 L72.54,407.16 L73.13,406.73 L73.72,406.30 L74.31,405.85 L74.90,405.38 L75.49,404.90 L76.08,404.41 L76.67,403.90 L77.26,403.38 L77.85,402.84 L78.44,402.29 L79.03,401.73 L79.62,401.15 L80.22,400.56 L80.81,399.95 L81.40,399.33 L81.99,398.70 L82.58,398.05 L83.17,397.39 L83.76,396.71 L84.35,396.03 L84.94,395.33 L85.53,394.61 L86.12,393.88 L86.71,393.14 L87.30,392.39 L87.89,391.62 L88.48,390.84 L89.08,390.04 L89.67,389.24 L90.26,388.42 L90.85,387.59 L91.44,386.74 L92.03,385.88 L92.62,385.01 L93.21,384.13 L93.80,383.24 L94.39,382.33 L94.98,381.41 L95.57,380.48 L96.16,379.54 L96.75,378.58 L97.34,377.61 L97.93,376.64 L98.53,375.64 L99.12,374.64 L99.71,373.63 L100.30,372.60 L100.89,371.57 L101.48,370.52 L102.07,369.46 L102.66,368.39 L103.25,367.31 L103.84,366.22 L104.43,365.12 L105.02,364.01 L105.61,362.88 L106.20,361.75 L106.79,360.61 L107.38,359.45 L107.97,358.29 L108.57,357.11 L109.16,355.93 L109.75,354.74 L110.34,353.53 L110.93,352.32 L111.52,351.10 L112.11,349.86 L112.70,348.62 L113.29,347.37 L113.88,346.11 L114.47,344.85 L115.06,343.57 L115.65,342.28 L116.24,340.99 L116.83,339.69 L117.43,338.38 L118.02,337.06 L118.61,335.73 L119.20,334.40 L119.79,333.05 L120.38,331.70 L120.97,330.35 L121.56,328.98 L122.15,327.61 L122.74,326.23 L123.33,324.84 L123.92,323.45 L124.51,322.05 L125.10,320.64 L125.69,319.23 L126.28,317.81 L126.88,316.38 L127.47,314.95 L128.06,313.51 L128.65,312.07 L129.24,310.62 L129.83,309.16 L130.42,307.70 L131.01,306.23 L131.60,304.76 L132.19,303.28 L132.78,301.80 L133.37,300.31 L133.96,298.82 L134.55,297.33 L135.14,295.83 L135.73,294.32 L136.32,292.81 L136.92,291.30 L137.51,289.78 L138.10,288.26 L138.69,286.74 L139.28,285.21 L139.87,283.68 L140.46,282.15 L141.05,280.61 L141.64,279.07 L142.23,277.53 L142.82,275.98 L143.41,274.44 L144.00,272.89 L144.59,271.33 L145.18,269.78 L145.78,268.22 L146.37,266.67 L146.96,265.11 L147.55,263.55 L148.14,261.98 L148.73,260.42 L149.32,258.86 L149.91,257.29 L150.50,255.73 L151.09,254.16 L151.68,252.59 L152.27,251.02 L152.86,249.46 L153.45,247.89 L154.04,246.32 L154.63,244.76 L155.22,243.19 L155.82,241.62 L156.41,240.06 L157.00,238.49 L157.59,236.93 L158.18,235.37 L158.77,233.80 L159.36,232.25 L159.95,230.69 L160.54,229.13 L161.13,227.58 L161.72,226.02 L162.31,224.47 L162.90,222.92 L163.49,221.38 L164.08,219.83 L164.68,218.29 L165.27,216.75 L165.86,215.22 L166.45,213.69 L167.04,212.16 L167.63,210.63 L168.22,209.11 L168.81,207.59 L169.40,206.08 L169.99,204.57 L170.58,203.06 L171.17,201.56 L171.76,200.06 L172.35,198.57 L172.94,197.08 L173.53,195.60 L174.12,194.12 L174.72,192.64 L175.31,191.18 L175.90,189.71 L176.49,188.25 L177.08,186.80 L177.67,185.35 L178.26,183.91 L178.85,182.48 L179.44,181.05 L180.03,179.63 L180.62,178.21 L181.21,176.80 L181.80,175.40 L182.39,174.00 L182.98,172.61 L183.57,171.23 L184.17,169.85 L184.76,168.49 L185.35,167.13 L185.94,165.77 L186.53,164.43 L187.12,163.09 L187.71,161.76 L188.30,160.44 L188.89,159.12 L189.48,157.82 L190.07,156.52 L190.66,155.23 L191.25,153.95 L191.84,152.68 L192.43,151.42 L193.02,150.16 L193.62,148.92 L194.21,147.68 L194.80,146.46 L195.39,145.24 L195.98,144.03 L196.57,142.84 L197.16,141.65 L197.75,140.47 L198.34,139.30 L198.93,138.14 L199.52,137.00 L200.11,135.86 L200.70,134.73 L201.29,133.61 L201.88,132.51 L202.47,131.41 L203.07,130.33 L203.66,129.25 L204.25,128.19 L204.84,127.14 L205.43,126.10 L206.02,125.07 L206.61,124.05 L207.20,123.04 L207.79,122.05 L208.38,121.06 L208.97,120.09 L209.56,119.13 L210.15,118.18 L210.74,117.25 L211.33,116.32 L211.93,115.41 L212.52,114.51 L213.11,113.63 L213.70,112.75 L214.29,111.89 L214.88,111.04 L215.47,110.20 L216.06,109.38 L216.65,108.56 L217.24,107.77 L217.83,106.98 L218.42,106.21 L219.01,105.45 L219.60,104.70 L220.19,103.97 L220.78,103.25 L221.38,102.54 L221.97,101.85 L222.56,101.17 L223.15,100.50 L223.74,99.85 L224.33,99.21 L224.92,98.58 L225.51,97.97 L226.10,97.37 L226.69,96.79 L227.28,96.22 L227.87,95.66 L228.46,95.12 L229.05,94.59 L229.64,94.08 L230.23,93.58 L230.82,93.10 L231.42,92.62 L232.01,92.17 L232.60,91.73 L233.19,91.30 L233.78,90.88 L234.37,90.49 L234.96,90.10 L235.55,89.73 L236.14,89.38 L236.73,89.04 L237.32,88.71 L237.91,88.40 L238.50,88.10 L239.09,87.82 L239.68,87.55 L240.28,87.30 L240.87,87.06 L241.46,86.84 L242.05,86.63 L242.64,86.44 L243.23,86.26 L243.82,86.10 L244.41,85.95 L245.00,85.82 L245.59,85.70 L246.18,85.60 L246.77,85.51 L247.36,85.43 L247.95,85.37 L248.54,85.33 L249.13,85.30 L249.72,85.29 L250.32,85.29 L250.91,85.31 L251.50,85.34 L252.09,85.39 L252.68,85.45 L253.27,85.52 L253.86,85.61 L254.45,85.72 L255.04,85.84 L255.63,85.98 L256.22,86.13 L256.81,86.30 L257.40,86.48 L257.99,86.67 L258.58,86.88 L259.17,87.11 L259.77,87.35 L260.36,87.60 L260.95,87.88 L261.54,88.16 L262.13,88.46 L262.72,88.77 L263.31,89.10 L263.90,89.45 L264.49,89.80 L265.08,90.18 L265.67,90.56 L266.26,90.97 L266.85,91.38 L267.44,91.81 L268.03,92.26 L268.62,92.72 L269.22,93.19 L269.81,93.68 L270.40,94.18 L270.99,94.70 L271.58,95.23 L272.17,95.77 L272.76,96.33 L273.35,96.91 L273.94,97.49 L274.53,98.09 L275.12,98.71 L275.71,99.34 L276.30,99.98 L276.89,100.63 L277.48,101.30 L278.07,101.98 L278.67,102.68 L279.26,103.39 L279.85,104.11 L280.44,104.85 L281.03,105.60 L281.62,106.36 L282.21,107.14 L282.80,107.92 L283.39,108.73 L283.98,109.54 L284.57,110.37 L285.16,111.21 L285.75,112.06 L286.34,112.92 L286.93,113.80 L287.52,114.69 L288.12,115.59 L288.71,116.51 L289.30,117.43 L289.89,118.37 L290.48,119.32 L291.07,120.29 L291.66,121.26 L292.25,122.25 L292.84,123.24 L293.43,124.25 L294.02,125.27 L294.61,126.30 L295.20,127.35 L295.79,128.40 L296.38,129.47 L296.98,130.54 L297.57,131.63 L298.16,132.73 L298.75,133.84 L299.34,134.95 L299.93,136.08 L300.52,137.22 L301.11,138.37 L301.70,139.53 L302.29,140.70 L302.88,141.88 L303.47,143.07 L304.06,144.27 L304.65,145.48 L305.24,146.70 L305.83,147.93 L306.43,149.17 L307.02,150.41 L307.61,151.67 L308.20,152.93 L308.79,154.21 L309.38,155.49 L309.97,156.78 L310.56,158.08 L311.15,159.39 L311.74,160.70 L312.33,162.02 L312.92,163.36 L313.51,164.70 L314.10,166.04 L314.69,167.40 L315.28,168.76 L315.88,170.13 L316.47,171.51 L317.06,172.89 L317.65,174.28 L318.24,175.68 L318.83,177.08 L319.42,178.49 L320.01,179.91 L320.60,181.34 L321.19,182.77 L321.78,184.20 L322.37,185.64 L322.96,187.09 L323.55,188.54 L324.14,190.00 L324.73,191.47 L325.32,192.94 L325.92,194.41 L326.51,195.89 L327.10,197.38 L327.69,198.87 L328.28,200.36 L328.87,201.86 L329.46,203.36 L330.05,204.87 L330.64,206.38 L331.23,207.90 L331.82,209.42 L332.41,210.94 L333.00,212.46 L333.59,213.99 L334.18,215.53 L334.77,217.06 L335.37,218.60 L335.96,220.14 L336.55,221.69 L337.14,223.23 L337.73,224.78 L338.32,226.33 L338.91,227.89 L339.50,229.44 L340.09,231.00 L340.68,232.56 L341.27,234.12 L341.86,235.68 L342.45,237.24 L343.04,238.81 L343.63,240.37 L344.22,241.94 L344.82,243.50 L345.41,245.07 L346.00,246.64 L346.59,248.20 L347.18,249.77 L347.77,251.34 L348.36,252.91 L348.95,254.47 L349.54,256.04 L350.13,257.60 L350.72,259.17 L351.31,260.73 L351.90,262.30 L352.49,263.86 L353.08,265.42 L353.68,266.98 L354.27,268.54 L354.86,270.09 L355.45,271.64 L356.04,273.20 L356.63,274.75 L357.22,276.29 L357.81,277.84 L358.40,279.38 L358.99,280.92 L359.58,282.45 L360.17,283.99 L360.76,285.52 L361.35,287.04 L361.94,288.57 L362.53,290.09 L363.12,291.60 L363.72,293.12 L364.31,294.62 L364.90,296.13 L365.49,297.63 L366.08,299.12 L366.67,300.61 L367.26,302.10 L367.85,303.58 L368.44,305.06 L369.03,306.53 L369.62,307.99 L370.21,309.45 L370.80,310.91 L371.39,312.36 L371.98,313.80 L372.58,315.24 L373.17,316.67 L373.76,318.09 L374.35,319.51 L374.94,320.92 L375.53,322.33 L376.12,323.73 L376.71,325.12 L377.30,326.51 L377.89,327.88 L378.48,329.26 L379.07,330.62 L379.66,331.98 L380.25,333.32 L380.84,334.66 L381.43,336.00 L382.02,337.32 L382.62,338.64 L383.21,339.95 L383.80,341.25 L384.39,342.54 L384.98,343.83 L385.57,345.10 L386.16,346.37 L386.75,347.62 L387.34,348.87 L387.93,350.11 L388.52,351.34 L389.11,352.56 L389.70,353.77 L390.29,354.97 L390.88,356.17 L391.47,357.35 L392.07,358.52 L392.66,359.68 L393.25,360.83 L393.84,361.98 L394.43,363.11 L395.02,364.23 L395.61,365.34 L396.20,366.44 L396.79,367.53 L397.38,368.61 L397.97,369.67 L398.56,370.73 L399.15,371.78 L399.74,372.81 L400.33,373.83 L400.93,374.84 L401.52,375.84 L402.11,376.83 L402.70,377.81 L403.29,378.77 L403.88,379.73 L404.47,380.67 L405.06,381.60 L405.65,382.51 L406.24,383.42 L406.83,384.31 L407.42,385.19 L408.01,386.06 L408.60,386.91 L409.19,387.75 L409.78,388.58 L410.38,389.40 L410.97,390.20 L411.56,391.00 L412.15,391.77 L412.74,392.54 L413.33,393.29 L413.92,394.03 L414.51,394.75 L415.10,395.47 L415.69,396.17 L416.28,396.85 L416.87,397.52 L417.46,398.18 L418.05,398.83 L418.64,399.46 L419.23,400.07 L419.82,400.68 L420.42,401.27 L421.01,401.84 L421.60,402.40 L422.19,402.95 L422.78,403.48 L423.37,404.00 L423.96,404.51 L424.55,405.00 L425.14,405.48 L425.73,405.94 L426.32,406.39 L426.91,406.82 L427.50,407.24 L428.09,407.64 L428.68,408.03 L429.28,408.41 L429.87,408.77 L430.46,409.12 L431.05,409.45 L431.64,409.77 L432.23,410.07 L432.82,410.36 L433.41,410.63 L434.00,410.89 L434.59,411.13 L435.18,411.36 L435.77,411.57 L436.36,411.77 L436.95,411.96 L437.54,412.13 L438.13,412.28 L438.73,412.42 L439.32,412.54 L439.91,412.65 L440.50,412.75 L441.09,412.83 L441.68,412.89 L442.27,412.94 L442.86,412.98 L443.45,413.00 L444.04,413.00 L444.63,412.99 L445.22,412.96 L445.81,412.92 L446.40,412.87 L446.99,412.80 L447.58,412.71 L448.17,412.61 L448.77,412.50 L449.36,412.37 L449.95,412.22 L450.54,412.06 L451.13,411.89 L451.72,411.70 L452.31,411.49 L452.90,411.27 L453.49,411.04 L454.08,410.79 L454.67,410.52 L455.26,410.24 L455.85,409.95 L456.44,409.64 L457.03,409.32 L457.62,408.98 L458.22,408.63 L458.81,408.26 L459.40,407.88 L459.99,407.48 L460.58,407.07 L461.17,406.65 L461.76,406.21 L462.35,405.76 L462.94,405.29 L463.53,404.81 L464.12,404.31 L464.71,403.80 L465.30,403.27 L465.89,402.73 L466.48,402.18 L467.07,401.61 L467.67,401.03 L468.26,400.44 L468.85,399.83 L469.44,399.21 L470.03,398.57 L470.62,397.92 L471.21,397.26 L471.80,396.58 L472.39,395.89 L472.98,395.18 L473.57,394.47 L474.16,393.74 L474.75,392.99 L475.34,392.23 L475.93,391.46 L476.53,390.68 L477.12,389.88 L477.71,389.07 L478.30,388.25 L478.89,387.42 L479.48,386.57 L480.07,385.71 L480.66,384.84 L481.25,383.95 L481.84,383.06 L482.43,382.15 L483.02,381.23 L483.61,380.29 L484.20,379.35 L484.79,378.39 L485.38,377.42 L485.98,376.44 L486.57,375.45 L487.16,374.44 L487.75,373.42 L488.34,372.40 L488.93,371.36 L489.52,370.31 L490.11,369.25 L490.70,368.18 L491.29,367.09 L491.88,366.00 L492.47,364.90 L493.06,363.78 L493.65,362.66 L494.24,361.52 L494.83,360.38 L495.43,359.22 L496.02,358.05 L496.61,356.88 L497.20,355.69 L497.79,354.50 L498.38,353.29 L498.97,352.08 L499.56,350.85 L500.15,349.62 L500.74,348.37 L501.33,347.12 L501.92,345.86 L502.51,344.59 L503.10,343.31 L503.69,342.03 L504.28,340.73 L504.88,339.43 L505.47,338.11 L506.06,336.79 L506.65,335.47 L507.24,334.13 L507.83,332.79 L508.42,331.43 L509.01,330.07 L509.60,328.71 L510.19,327.33 L510.78,325.95 L511.37,324.56 L511.96,323.17 L512.55,321.77 L513.14,320.36 L513.73,318.94 L514.33,317.52 L514.92,316.10 L515.51,314.66 L516.10,313.22 L516.69,311.78 L517.28,310.33 L517.87,308.87 L518.46,307.41 L519.05,305.94 L519.64,304.47 L520.23,302.99 L520.82,301.50 L521.41,300.02 L522.00,298.52 L522.59,297.03 L523.18,295.53 L523.77,294.02 L524.37,292.51 L524.96,291.00 L525.55,289.48 L526.14,287.96 L526.73,286.43 L527.32,284.91 L527.91,283.38 L528.50,281.84" stroke="#EDB120"/>
<path d="M56.00,40.60 L56.59,40.61 L57.18,40.63 L57.77,40.67 L58.36,40.72 L58.95,40.78 L59.54,40.86 L60.13,40.96 L60.73,41.07 L61.32,41.19 L61.91,41.33 L62.50,41.49 L63.09,41.65 L63.68,41.84 L64.27,42.03 L64.86,42.25 L65.45,42.47 L66.04,42.71 L66.63,42.97 L67.22,43.24 L67.81,43.52 L68.40,43.82 L68.99,44.13 L69.58,44.46 L70.17,44.80 L70.77,45.16 L71.36,45.53 L71.95,45.91 L72.54,46.31 L73.13,46.72 L73.72,47.15 L74.31,47.59 L74.90,48.04 L75.49,48.51 L76.08,49.00 L76.67,49.49 L77.26,50.00 L77.85,50.53 L78.44,51.06 L79.03,51.62 L79.62,52.18 L80.22,52.76 L80.81,53.35 L81.40,53.96 L81.99,54.58 L82.58,55.21 L83.17,55.86 L83.76,56.52 L84.35,57.19 L84.94,57.87 L85.53,58.57 L86.12,59.28 L86.71,60.01 L87.30,60.75 L87.89,61.50 L88.48,62.26 L89.08,63.03 L89.67,63.82 L90.26,64.62 L90.85,65.44 L91.44,66.26 L92.03,67.10 L92.62,67.95 L93.21,68.81 L93.80,69.69 L94.39,70.57 L94.98,71.47 L95.57,72.38 L96.16,73.30 L96.75,74.24 L97.34,75.18 L97.93,76.14 L98.53,77.11 L99.12,78.09 L99.71,79.08 L100.30,80.08 L100.89,81.09 L101.48,82.11 L102.07,83.15 L102.66,84.19 L103.25,85.25 L103.84,86.32 L104.43,87.39 L105.02,88.48 L105.61,89.58 L106.20,90.69 L106.79,91.80 L107.38,92.93 L107.97,94.07 L108.57,95.22 L109.16,96.37 L109.75,97.54 L110.34,98.72 L110.93,99.90 L111.52,101.10 L112.11,102.30 L112.70,103.51 L113.29,104.74 L113.88,105.97 L114.47,107.20 L115.06,108.45 L115.65,109.71 L116.24,110.97 L116.83,112.25 L117.43,113.53 L118.02,114.82 L118.61,116.11 L119.20,117.42 L119.79,118.73 L120.38,120.05 L120.97,121.37 L121.56,122.71 L122.15,124.05 L122.74,125.40 L123.33,126.75 L123.92,128.12 L124.51,129.48 L125.10,130.86 L125.69,132.24 L126.28,133.63 L126.88,135.02 L127.47,136.42 L128.06,137.83 L128.65,139.24 L129.24,140.66 L129.83,142.08 L130.42,143.51 L131.01,144.94 L131.60,146.38 L132.19,147.82 L132.78,149.27 L133.37,150.72 L133.96,152.18 L134.55,153.64 L135.14,155.11 L135.73,156.58 L136.32,158.06 L136.92,159.53 L137.51,161.02 L138.10,162.50 L138.69,163.99 L139.28,165.48 L139.87,166.98 L140.46,168.48 L141.05,169.98 L141.64,171.48 L142.23,172.99 L142.82,174.50 L143.41,176.01 L144.00,177.53 L144.59,179.05 L145.18,180.56 L145.78,182.09 L146.37,183.61 L146.96,185.13 L147.55,186.66 L148.14,188.18 L148.73,189.71 L149.32,191.24 L149.91,192.77 L150.50,194.30 L151.09,195.83 L151.68,197.36 L152.27,198.89 L152.86,200.43 L153.45,201.96 L154.04,203.49 L154.63,205.02 L155.22,206.55 L155.82,208.08 L156.41,209.61 L157.00,211.14 L157.59,212.67 L158.18,214.20 L158.77,215.72 L159.36,217.25 L159.95,218.77 L160.54,220.29 L161.13,221.81 L161.72,223.33 L162.31,224.84 L162.90,226.36 L163.49,227.87 L164.08,229.38 L164.68,230.88 L165.27,232.39 L165.86,233.89 L166.45,235.38 L167.04,236.88 L167.63,238.37 L168.22,239.85 L168.81,241.34 L169.40,242.82 L169.99,244.29 L170.58,245.77 L171.17,247.23 L171.76,248.70 L172.35,250.16 L172.94,251.61 L173.53,253.06 L174.12,254.51 L174.72,255.95 L175.31,257.38 L175.90,258.81 L176.49,260.24 L177.08,261.66 L177.67,263.07 L178.26,264.48 L178.85,265.88 L179.44,267.28 L180.03,268.67 L180.62,270.05 L181.21,271.43 L181.80,272.80 L182.39,274.17 L182.98,275.52 L183.57,276.88 L184.17,278.22 L184.76,279.56 L185.35,280.89 L185.94,282.21 L186.53,283.52 L187.12,284.83 L187.71,286.13 L188.30,287.42 L188.89,288.71 L189.48,289.98 L190.07,291.25 L190.66,292.51 L191.25,293.76 L191.84,295.00 L192.43,296.24 L193.02,297.46 L193.62,298.68 L194.21,299.89 L194.80,301.09 L195.39,302.27 L195.98,303.45 L196.57,304.62 L197.16,305.79 L197.75,306.94 L198.34,308.08 L198.93,309.21 L199.52,310.33 L200.11,311.44 L200.70,312.55 L201.29,313.64 L201.88,314.72 L202.47,315.79 L203.07,316.85 L203.66,317.90 L204.25,318.94 L204.84,319.97 L205.43,320.98 L206.02,321.99 L206.61,322.98 L207.20,323.97 L207.79,324.94 L208.38,325.90 L208.97,326.85 L209.56,327.79 L210.15,328.72 L210.74,329.63 L211.33,330.53 L211.93,331.42 L212.52,332.30 L213.11,333.17 L213.70,334.03 L214.29,334.87 L214.88,335.70 L215.47,336.52 L216.06,337.32 L216.65,338.12 L217.24,338.90 L217.83,339.66 L218.42,340.42 L219.01,341.16 L219.60,341.89 L220.19,342.61 L220.78,343.31 L221.38,344.00 L221.97,344.68 L222.56,345.35 L223.15,346.00 L223.74,346.64 L224.33,347.26 L224.92,347.87 L225.51,348.47 L226.10,349.05 L226.69,349.62 L227.28,350.18 L227.87,350.72 L228.46,351.25 L229.05,351.77 L229.64,352.27 L230.23,352.76 L230.82,353.23 L231.42,353.69 L232.01,354.14 L232.60,354.57 L233.19,354.99 L233.78,355.39 L234.37,355.78 L234.96,356.16 L235.55,356.52 L236.14,356.87 L236.73,357.20 L237.32,357.52 L237.91,357.82 L238.50,358.11 L239.09,358.39 L239.68,358.65 L240.28,358.90 L240.87,359.13 L241.46,359.35 L242.05,359.55 L242.64,359.74 L243.23,359.91 L243.82,360.07 L244.41,360.22 L245.00,360.35 L245.59,360.46 L246.18,360.56 L246.77,360.65 L247.36,360.72 L247.95,360.78 L248.54,360.82 L249.13,360.85 L249.72,360.86 L250.32,360.86 L250.91,360.85 L251.50,360.81 L252.09,360.77 L252.68,360.71 L253.27,360.63 L253.86,360.54 L254.45,360.44 L255.04,360.32 L255.63,360.19 L256.22,360.04 L256.81,359.88 L257.40,359.70 L257.99,359.51 L258.58,359.30 L259.17,359.08 L259.77,358.85 L260.36,358.60 L260.95,358.34 L261.54,358.06 L262.13,357.76 L262.72,357.46 L263.31,357.14 L263.90,356.80 L264.49,356.45 L265.08,356.09 L265.67,355.71 L266.26,355.31 L266.85,354.91 L267.44,354.49 L268.03,354.05 L268.62,353.60 L269.22,353.14 L269.81,352.66 L270.40,352.17 L270.99,351.67 L271.58,351.15 L272.17,350.62 L272.76,350.07 L273.35,349.51 L273.94,348.94 L274.53,348.35 L275.12,347.75 L275.71,347.14 L276.30,346.51 L276.89,345.87 L277.48,345.21 L278.07,344.55 L278.67,343.87 L279.26,343.17 L279.85,342.47 L280.44,341.75 L281.03,341.02 L281.62,340.27 L282.21,339.51 L282.80,338.74 L283.39,337.96 L283.98,337.16 L284.57,336.35 L285.16,335.53 L285.75,334.70 L286.34,333.86 L286.93,333.00 L287.52,332.13 L288.12,331.25 L288.71,330.35 L289.30,329.45 L289.89,328.53 L290.48,327.60 L291.07,326.66 L291.66,325.71 L292.25,324.75 L292.84,323.77 L293.43,322.79 L294.02,321.79 L294.61,320.78 L295.20,319.76 L295.79,318.73 L296.38,317.69 L296.98,316.64 L297.57,315.58 L298.16,314.50 L298.75,313.42 L299.34,312.33 L299.93,311.22 L300.52,310.11 L301.11,308.98 L301.70,307.85 L302.29,306.71 L302.88,305.55 L303.47,304.39 L304.06,303.22 L304.65,302.04 L305.24,300.85 L305.83,299.65 L306.43,298.44 L307.02,297.22 L307.61,295.99 L308.20,294.76 L308.79,293.51 L309.38,292.26 L309.97,291.00 L310.56,289.73 L311.15,288.45 L311.74,287.17 L312.33,285.87 L312.92,284.57 L313.51,283.26 L314.10,281.94 L314.69,280.62 L315.28,279.29 L315.88,277.95 L316.47,276.61 L317.06,275.25 L317.65,273.89 L318.24,272.53 L318.83,271.16 L319.42,269.78 L320.01,268.39 L320.60,267.00 L321.19,265.60 L321.78,264.20 L322.37,262.79 L322.96,261.37 L323.55,259.95 L324.14,258.53 L324.73,257.10 L325.32,255.66 L325.92,254.22 L326.51,252.77 L327.10,251.32 L327.69,249.87 L328.28,248.41 L328.87,246.94 L329.46,245.47 L330.05,244.00 L330.64,242.52 L331.23,241.04 L331.82,239.56 L332.41,238.07 L333.00,236.58 L333.59,235.08 L334.18,233.59 L334.77,232.08 L335.37,230.58 L335.96,229.07 L336.55,227.57 L337.14,226.05 L337.73,224.54 L338.32,223.02 L338.91,221.51 L339.50,219.99 L340.09,218.47 L340.68,216.94 L341.27,215.42 L341.86,213.89 L342.45,212.36 L343.04,210.84 L343.63,209.31 L344.22,207.78 L344.82,206.25 L345.41,204.71 L346.00,203.18 L346.59,201.65 L347.18,200.12 L347.77,198.59 L348.36,197.06 L348.95,195.52 L349.54,193.99 L350.13,192.46 L350.72,190.93 L351.31,189.41 L351.90,187.88 L352.49,186.35 L353.08,184.83 L353.68,183.30 L354.27,181.78 L354.86,180.26 L355.45,178.74 L356.04,177.23 L356.63,175.71 L357.22,174.20 L357.81,172.69 L358.40,171.18 L358.99,169.68 L359.58,168.18 L360.17,166.68 L360.76,165.18 L361.35,163.69 L361.94,162.20 L362.53,160.72 L363.12,159.24 L363.72,157.76 L364.31,156.29 L364.90,154.82 L365.49,153.35 L366.08,151.89 L366.67,150.43 L367.26,148.98 L367.85,147.53 L368.44,146.09 L369.03,144.65 L369.62,143.22 L370.21,141.79 L370.80,140.37 L371.39,138.96 L371.98,137.55 L372.58,136.14 L373.17,134.74 L373.76,133.35 L374.35,131.96 L374.94,130.58 L375.53,129.21 L376.12,127.84 L376.71,126.48 L377.30,125.13 L377.89,123.78 L378.48,122.44 L379.07,121.11 L379.66,119.78 L380.25,118.47 L380.84,117.15 L381.43,115.85 L382.02,114.56 L382.62,113.27 L383.21,111.99 L383.80,110.72 L384.39,109.46 L384.98,108.20 L385.57,106.96 L386.16,105.72 L386.75,104.49 L387.34,103.27 L387.93,102.06 L388.52,100.86 L389.11,99.66 L389.70,98.48 L390.29,97.31 L390.88,96.14 L391.47,94.99 L392.07,93.84 L392.66,92.71 L393.25,91.58 L393.84,90.46 L394.43,89.36 L395.02,88.26 L395.61,87.18 L396.20,86.10 L396.79,85.04 L397.38,83.98 L397.97,82.94 L398.56,81.91 L399.15,80.89 L399.74,79.88 L400.33,78.88 L400.93,77.89 L401.52,76.91 L402.11,75.95 L402.70,74.99 L403.29,74.05 L403.88,73.12 L404.47,72.20 L405.06,71.29 L405.65,70.39 L406.24,69.51 L406.83,68.64 L407.42,67.78 L408.01,66.93 L408.60,66.10 L409.19,65.27 L409.78,64.46 L410.38,63.66 L410.97,62.88 L411.56,62.10 L412.15,61.34 L412.74,60.60 L413.33,59.86 L413.92,59.14 L414.51,58.43 L415.10,57.73 L415.69,57.05 L416.28,56.38 L416.87,55.73 L417.46,55.08 L418.05,54.45 L418.64,53.84 L419.23,53.23 L419.82,52.64 L420.42,52.07 L421.01,51.50 L421.60,50.96 L422.19,50.42 L422.78,49.90 L423.37,49.39 L423.96,48.90 L424.55,48.42 L425.14,47.95 L425.73,47.50 L426.32,47.06 L426.91,46.64 L427.50,46.23 L428.09,45.83 L428.68,45.45 L429.28,45.09 L429.87,44.73 L430.46,44.39 L431.05,44.07 L431.64,43.76 L432.23,43.46 L432.82,43.18 L433.41,42.92 L434.00,42.66 L434.59,42.43 L435.18,42.20 L435.77,41.99 L436.36,41.80 L436.95,41.62 L437.54,41.45 L438.13,41.30 L438.73,41.17 L439.32,41.05 L439.91,40.94 L440.50,40.85 L441.09,40.77 L441.68,40.71 L442.27,40.66 L442.86,40.62 L443.45,40.60 L444.04,40.60 L444.63,40.61 L445.22,40.64 L445.81,40.68 L446.40,40.73 L446.99,40.80 L447.58,40.88 L448.17,40.98 L448.77,41.09 L449.36,41.22 L449.95,41.36 L450.54,41.52 L451.13,41.69 L451.72,41.88 L452.31,42.08 L452.90,42.29 L453.49,42.52 L454.08,42.76 L454.67,43.02 L455.26,43.29 L455.85,43.58 L456.44,43.88 L457.03,44.20 L457.62,44.53 L458.22,44.87 L458.81,45.23 L459.40,45.60 L459.99,45.99 L460.58,46.39 L461.17,46.81 L461.76,47.24 L462.35,47.68 L462.94,48.14 L463.53,48.61 L464.12,49.09 L464.71,49.59 L465.30,50.11 L465.89,50.63 L466.48,51.17 L467.07,51.73 L467.67,52.30 L468.26,52.88 L468.85,53.47 L469.44,54.08 L470.03,54.70 L470.62,55.34 L471.21,55.99 L471.80,56.65 L472.39,57.32 L472.98,58.01 L473.57,58.71 L474.16,59.43 L474.75,60.15 L475.34,60.89 L475.93,61.65 L476.53,62.41 L477.12,63.19 L477.71,63.98 L478.30,64.78 L478.89,65.60 L479.48,66.43 L480.07,67.27 L480.66,68.12 L481.25,68.99 L481.84,69.86 L482.43,70.75 L483.02,71.65 L483.61,72.56 L484.20,73.49 L484.79,74.42 L485.38,75.37 L485.98,76.33 L486.57,77.30 L487.16,78.28 L487.75,79.28 L488.34,80.28 L488.93,81.29 L489.52,82.32 L490.11,83.36 L490.70,84.40 L491.29,85.46 L491.88,86.53 L492.47,87.61 L493.06,88.70 L493.65,89.80 L494.24,90.91 L494.83,92.03 L495.43,93.16 L496.02,94.30 L496.61,95.45 L497.20,96.61 L497.79,97.78 L498.38,98.95 L498.97,100.14 L499.56,101.34 L500.15,102.54 L500.74,103.76 L501.33,104.98 L501.92,106.21 L502.51,107.45 L503.10,108.70 L503.69,109.96 L504.28,111.23 L504.88,112.50 L505.47,113.78 L506.06,115.07 L506.65,116.37 L507.24,117.68 L507.83,118.99 L508.42,120.31 L509.01,121.64 L509.60,122.98 L510.19,124.32 L510.78,125.67 L511.37,127.03 L511.96,128.39 L512.55,129.76 L513.14,131.14 L513.73,132.52 L514.33,133.91 L514.92,135.30 L515.51,136.70 L516.10,138.11 L516.69,139.52 L517.28,140.94 L517.87,142.37 L518.46,143.79 L519.05,145.23 L519.64,146.67 L520.23,148.11 L520.82,149.56 L521.41,151.02 L522.00,152.47 L522.59,153.94 L523.18,155.40 L523.77,156.88 L524.37,158.35 L524.96,159.83 L525.55,161.31 L526.14,162.80 L526.73,164.29 L527.32,165.78 L527.91,167.28 L528.50,168.78" stroke="#7E2F8E"/>
</g>
<text transform="translate(41.48,418.90) scale(1.07,1)" font-size="14" class="tk">0</text><text transform="translate(29.99,381.66) scale(1.07,1)" font-size="14" class="tk"><tspan x="0.000">0.</tspan><tspan x="11.676" font-size="13.50" class="n1">1</tspan></text><text transform="translate(29.99,344.42) scale(1.07,1)" font-size="14" class="tk">0.2</text><text transform="translate(29.99,307.18) scale(1.07,1)" font-size="14" class="tk">0.3</text><text transform="translate(29.99,269.94) scale(1.07,1)" font-size="14" class="tk">0.4</text><text transform="translate(29.99,232.70) scale(1.07,1)" font-size="14" class="tk">0.5</text><text transform="translate(29.99,195.46) scale(1.07,1)" font-size="14" class="tk">0.6</text><text transform="translate(29.99,158.22) scale(1.07,1)" font-size="14" class="tk">0.7</text><text transform="translate(29.99,120.98) scale(1.07,1)" font-size="14" class="tk">0.8</text><text transform="translate(29.99,83.74) scale(1.07,1)" font-size="14" class="tk">0.9</text><text transform="translate(42.48,46.50) scale(1.07,1)" font-size="14" class="tk"><tspan x="0.000" font-size="13.50" class="n1">1</tspan></text><text transform="translate(51.83,433.6) scale(1.07,1)" font-size="14" class="tk">0</text><text transform="translate(163.71,433.6) scale(1.07,1)" font-size="14" class="tk">0.5</text><text transform="translate(288.08,433.6) scale(1.07,1)" font-size="14" class="tk"><tspan x="0.000" font-size="13.50" class="n1">1</tspan></text><text transform="translate(399.96,433.6) scale(1.07,1)" font-size="14" class="tk"><tspan x="0.000" font-size="13.50" class="n1">1</tspan><tspan x="7.786">.5</tspan></text><text transform="translate(524.33,433.6) scale(1.07,1)" font-size="14" class="tk">2</text><text transform="translate(494.42,460.60) scale(0.974,1)" font-size="17.5" style="stroke-width:0;font-family:'Liberation Sans', Arial, sans-serif;">×</text><text transform="translate(505.12,458.60) scale(1.103,1)" font-size="14" style="font-family:'Liberation Sans', Arial, sans-serif;"><tspan x="0.000" font-size="13.50" class="n1">1</tspan><tspan x="7.786">0</tspan></text><text transform="translate(522.68,451.20) scale(0.972,1)" font-size="10" style="font-family:'Liberation Sans', Arial, sans-serif;">4</text><text transform="translate(269.42,456.50) scale(1.036,1)" font-size="16.2" style="font-family:'Liberation Sans', Arial, sans-serif;">z(</text><text transform="translate(284.82,456.50) scale(1.104,1)" font-size="16.2" style="font-family:'Liberation Serif', 'Times New Roman', serif;font-style:italic;stroke-width:0.1px;">μ</text><text transform="translate(294.12,456.50) scale(1.092,1)" font-size="16.2" style="font-family:'Liberation Sans', Arial, sans-serif;">m</text><text transform="translate(310.72,456.50) scale(0.792,1)" font-size="16.2" style="font-family:'Liberation Sans', Arial, sans-serif;">)</text><text transform="translate(20.6,277.92) rotate(-90) scale(1.052,1)" font-size="16.2">coupling ratio</text>
<g stroke="#000" stroke-width="3" stroke-dasharray="2.9 2.915">
<line x1="186" y1="41.3" x2="188.7" y2="413"/>
<line x1="249.7" y1="41.3" x2="252.5" y2="413"/>
</g>
<ellipse cx="249.3" cy="85" rx="5.2" ry="10.7" fill="none" stroke="#FF0000" stroke-width="3"/>
<g stroke="#111" stroke-width="1.3">
<line x1="60" y1="34.4" x2="182" y2="34.4"/>
<line x1="60" y1="363.6" x2="247" y2="363.6"/>
</g>
<path d="M55.30,34.40 L70.50,28.40 L66.00,34.40 L70.50,40.40 Z" fill="#000"/>
<path d="M186.70,34.40 L171.50,28.40 L176.00,34.40 L171.50,40.40 Z" fill="#000"/>
<path d="M55.50,363.60 L70.70,357.60 L66.20,363.60 L70.70,369.60 Z" fill="#000"/>
<path d="M251.80,363.60 L236.60,357.60 L241.10,363.60 L236.60,369.60 Z" fill="#000"/>
<rect x="278.7" y="39.6" width="261.9" height="127.6" fill="#fff" stroke="#2e2e2e" stroke-width="1.15"/>
<g stroke-width="3">
<line x1="283" y1="57.2" x2="316" y2="57.2" stroke="#0072BD" stroke-dasharray="12 11"/>
<line x1="283" y1="88.5" x2="316" y2="88.5" stroke="#D95319"/>
<line x1="283" y1="119.5" x2="316" y2="119.5" stroke="#EDB120" stroke-dasharray="12 11"/>
<line x1="283" y1="150.5" x2="316" y2="150.5" stroke="#7E2F8E"/>
</g>
<text transform="translate(319.73,60.20) scale(1.049,1)" font-size="16.2" style="font-family:'Liberation Sans', Arial, sans-serif;">SMF LP</text><text transform="translate(383.03,69.60) scale(0.883,1)" font-size="13.6" style="font-family:'Liberation Sans', Arial, sans-serif;"><tspan x="0.000">0</tspan><tspan x="7.564" font-size="13.11" class="n1">1</tspan></text><text transform="translate(403.15,60.20) scale(1.071,1)" font-size="16.2" style="font-family:'Liberation Sans', Arial, sans-serif;">mode d = 4</text><text transform="translate(496.72,60.20) scale(1.288,1)" font-size="16.2" style="font-family:'Liberation Serif', 'Times New Roman', serif;font-style:italic;stroke-width:0.1px;">μ</text><text transform="translate(506.71,60.20) scale(1.110,1)" font-size="16.2" style="font-family:'Liberation Sans', Arial, sans-serif;">m</text><text transform="translate(319.80,91.00) scale(1.052,1)" font-size="16.2" style="font-family:'Liberation Sans', Arial, sans-serif;">FMF LP</text><text transform="translate(382.55,100.40) scale(0.916,1)" font-size="13.6" style="font-family:'Liberation Sans', Arial, sans-serif;"><tspan x="0.000" font-size="13.11" class="n1">1</tspan><tspan x="7.564" font-size="13.11" class="n1">1</tspan></text><text transform="translate(403.15,91.00) scale(1.071,1)" font-size="16.2" style="font-family:'Liberation Sans', Arial, sans-serif;">mode d = 4</text><text transform="translate(496.72,91.00) scale(1.288,1)" font-size="16.2" style="font-family:'Liberation Serif', 'Times New Roman', serif;font-style:italic;stroke-width:0.1px;">μ</text><text transform="translate(506.71,91.00) scale(1.110,1)" font-size="16.2" style="font-family:'Liberation Sans', Arial, sans-serif;">m</text><text transform="translate(319.73,121.60) scale(1.049,1)" font-size="16.2" style="font-family:'Liberation Sans', Arial, sans-serif;">SMF LP</text><text transform="translate(383.03,131.00) scale(0.883,1)" font-size="13.6" style="font-family:'Liberation Sans', Arial, sans-serif;"><tspan x="0.000">0</tspan><tspan x="7.564" font-size="13.11" class="n1">1</tspan></text><text transform="translate(403.15,121.60) scale(1.068,1)" font-size="16.2" style="font-family:'Liberation Sans', Arial, sans-serif;">mode d = 4.9</text><text transform="translate(511.32,121.60) scale(1.340,1)" font-size="16.2" style="font-family:'Liberation Serif', 'Times New Roman', serif;font-style:italic;stroke-width:0.1px;">μ</text><text transform="translate(521.50,121.60) scale(1.119,1)" font-size="16.2" style="font-family:'Liberation Sans', Arial, sans-serif;">m</text><text transform="translate(319.80,152.30) scale(1.052,1)" font-size="16.2" style="font-family:'Liberation Sans', Arial, sans-serif;">FMF LP</text><text transform="translate(382.55,161.70) scale(0.916,1)" font-size="13.6" style="font-family:'Liberation Sans', Arial, sans-serif;"><tspan x="0.000" font-size="13.11" class="n1">1</tspan><tspan x="7.564" font-size="13.11" class="n1">1</tspan></text><text transform="translate(403.15,152.30) scale(1.068,1)" font-size="16.2" style="font-family:'Liberation Sans', Arial, sans-serif;">mode d = 4.9</text><text transform="translate(511.32,152.30) scale(1.340,1)" font-size="16.2" style="font-family:'Liberation Serif', 'Times New Roman', serif;font-style:italic;stroke-width:0.1px;">μ</text><text transform="translate(521.50,152.30) scale(1.119,1)" font-size="16.2" style="font-family:'Liberation Sans', Arial, sans-serif;">m</text>
<text transform="translate(46.98,24.60) scale(1.070,1)" font-size="16.2" style="font-family:'Liberation Sans', Arial, sans-serif;">L</text><text transform="translate(56.99,32.90) scale(0.973,1)" font-size="12.4" style="font-family:'Liberation Sans', Arial, sans-serif;">c</text><text transform="translate(64.26,24.60) scale(1.058,1)" font-size="16.2" style="font-family:'Liberation Sans', Arial, sans-serif;">=5575</text><text transform="translate(119.12,24.60) scale(1.248,1)" font-size="16.2" style="font-family:'Liberation Serif', 'Times New Roman', serif;font-style:italic;stroke-width:0.1px;">μ</text><text transform="translate(129.39,24.60) scale(1.031,1)" font-size="16.2" style="font-family:'Liberation Sans', Arial, sans-serif;">m</text><text transform="translate(148.46,24.60) scale(1.133,1)" font-size="16.2" style="font-family:'Liberation Sans', Arial, sans-serif;">@</text><text transform="translate(172.20,24.60) scale(1.055,1)" font-size="16.2" style="font-family:'Liberation Sans', Arial, sans-serif;"><tspan x="0.000" font-size="15.62" class="n1">1</tspan><tspan x="9.010">.26</tspan></text><text transform="translate(211.32,24.60) scale(1.222,1)" font-size="16.2" style="font-family:'Liberation Serif', 'Times New Roman', serif;font-style:italic;stroke-width:0.1px;">μ</text><text transform="translate(221.56,24.60) scale(1.057,1)" font-size="16.2" style="font-family:'Liberation Sans', Arial, sans-serif;">m</text><text transform="translate(90.48,393.20) scale(1.070,1)" font-size="16.2" style="font-family:'Liberation Sans', Arial, sans-serif;">L</text><text transform="translate(101.09,402.50) scale(1.106,1)" font-size="13" style="font-family:'Liberation Sans', Arial, sans-serif;">c</text><text transform="translate(107.75,393.20) scale(1.075,1)" font-size="16.2" style="font-family:'Liberation Sans', Arial, sans-serif;"><tspan x="0.000">=82</tspan><tspan x="27.480" font-size="15.62" class="n1">1</tspan><tspan x="36.490">0</tspan></text><text transform="translate(162.62,393.20) scale(1.248,1)" font-size="16.2" style="font-family:'Liberation Serif', 'Times New Roman', serif;font-style:italic;stroke-width:0.1px;">μ</text><text transform="translate(172.89,393.20) scale(1.031,1)" font-size="16.2" style="font-family:'Liberation Sans', Arial, sans-serif;">m</text><text transform="translate(191.96,393.20) scale(1.133,1)" font-size="16.2" style="font-family:'Liberation Sans', Arial, sans-serif;">@</text><text transform="translate(215.70,393.20) scale(1.055,1)" font-size="16.2" style="font-family:'Liberation Sans', Arial, sans-serif;"><tspan x="0.000" font-size="15.62" class="n1">1</tspan><tspan x="9.010">.26</tspan></text><text transform="translate(254.82,393.20) scale(1.222,1)" font-size="16.2" style="font-family:'Liberation Serif', 'Times New Roman', serif;font-style:italic;stroke-width:0.1px;">μ</text><text transform="translate(265.06,393.20) scale(1.057,1)" font-size="16.2" style="font-family:'Liberation Sans', Arial, sans-serif;">m</text><text transform="translate(114.72,68.40) scale(1.179,1)" font-size="16.2" style="font-family:'Liberation Serif', 'Times New Roman', serif;font-style:italic;stroke-width:0.1px;">η</text><text transform="translate(128.43,68.40) scale(0.978,1)" font-size="16.2" style="font-family:'Liberation Sans', Arial, sans-serif;">=</text><text transform="translate(144.15,68.40) scale(1.022,1)" font-size="16.2" style="font-family:'Liberation Sans', Arial, sans-serif;">0.94</text><text transform="translate(219.12,68.40) scale(1.179,1)" font-size="16.2" style="font-family:'Liberation Serif', 'Times New Roman', serif;font-style:italic;stroke-width:0.1px;">η</text><text transform="translate(232.83,68.40) scale(0.978,1)" font-size="16.2" style="font-family:'Liberation Sans', Arial, sans-serif;">=</text><text transform="translate(248.55,68.40) scale(1.030,1)" font-size="16.2" style="font-family:'Liberation Sans', Arial, sans-serif;">0.88</text><text transform="translate(281.35,35.00) scale(1.010,1)" font-size="16.9" style="font-family:'Liberation Sans', Arial, sans-serif;font-weight:bold;">(b)</text>
</svg>
</body></html>
